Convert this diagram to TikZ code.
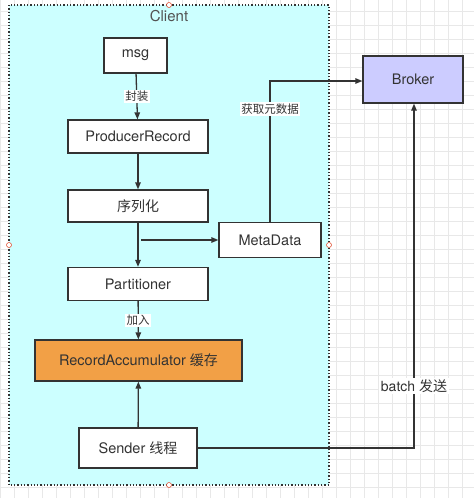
\documentclass[tikz,border=0pt]{standalone}
\usepackage{fontspec}
\setmainfont{TeX Gyre Heros}
\newfontfamily\cjk{Noto Sans CJK SC}
\usetikzlibrary{arrows.meta, positioning}
\definecolor{clientbg}{HTML}{CCFFFF}
\definecolor{accbg}{HTML}{F2A046}
\definecolor{brokerbg}{HTML}{CCCCFF}
\definecolor{linegray}{HTML}{333333}
\tikzset{larrow/.style = {-{Triangle[length=.7em,width=.55em]}, line width=1.3pt, draw=linegray},
         box/.style = {draw=linegray, line width=1.3pt, fill=white, inner sep=0pt, text=linegray, font=\fontsize{14.5}{16}\selectfont},
         tag/.style = {fill=white, inner sep=1.5pt, text=linegray, font=\fontsize{11.5}{13}\selectfont},
         handle/.style = {circle, draw=red!50!brown, fill=white, inner sep=0pt, minimum size=5pt, line width=.5pt}}

\begin{document}
\begin{tikzpicture}[x=1pt, y=-1pt]
    \useasboundingbox (0,0) rectangle (474,498);
    \fill[white] (0,0) rectangle (474,498);
    \draw[black!9, line width=.4pt, xstep=14pt, ystep=14pt, shift={(0,11.5)}] (0,-11.5) grid (474,487);

    % client area
    \draw[fill=clientbg, draw=linegray, line width=1.3pt, dotted] (9,5) rectangle (329,485);
    \node[text=linegray!85, font=\fontsize{15}{16}\selectfont] (client) at (169,16) {Client};

    \node[box, minimum width=63pt, minimum height=35pt] (msg) at (135.5,55.5) {msg};
    \node[box, minimum width=140pt, minimum height=33pt] (record) at (138,136.5) {ProducerRecord};
    \node[box, minimum width=140pt, minimum height=32pt] (serial) at (138,206) {\cjk\fontsize{14}{16}\selectfont 序列化};
    \node[box, minimum width=102pt, minimum height=35pt] (meta) at (270,240) {MetaData};
    \node[box, minimum width=140pt, minimum height=33pt] (part) at (138,284) {Partitioner};
    \node[box, fill=accbg, minimum width=207pt, minimum height=41pt] (acc) at (138.5,360.5) {RecordAccumulator {\cjk\fontsize{14}{16}\selectfont 缓存}};
    \node[box, minimum width=118pt, minimum height=40pt] (sender) at (138,448) {Sender {\cjk\fontsize{14}{16}\selectfont 线程}};
    \node[box, fill=brokerbg, minimum width=100pt, minimum height=47pt] (broker) at (413,79.5) {Broker};

    \coordinate (split) at (141,240);
    \coordinate (up) at (meta.north |- 0,81);
    \coordinate (down) at (414,448);

    \draw[larrow] (msg) -- node[tag] {\cjk 封装} (record);
    \draw[larrow] (record) -- (serial);
    \draw[larrow] (serial) -- (part);
    \draw[larrow] (split) -- (meta);
    \draw[larrow] (meta.north) -- node[tag, pos=.8] {\cjk 获取元数据} (up) -- (broker.west |- up);
    \draw[larrow] (part) -- node[tag] {\cjk 加入} (acc);
    \draw[larrow] (sender) -- (acc);
    \draw[larrow] (sender) -- (down) -- node[tag, pos=.18, font=\fontsize{14}{16}\selectfont] {batch {\cjk 发送}} (down |- broker.south);

    % selection handles
    \node[handle] (h1) at (169,5) {};
    \node[handle] (h2) at (9,245) {};
    \node[handle] (h3) at (329,245) {};
    \node[handle] (h4) at (169,485) {};
\end{tikzpicture}
\end{document}
